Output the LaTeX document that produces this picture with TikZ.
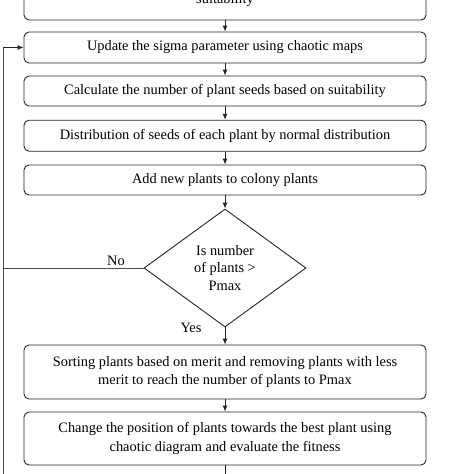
\documentclass[tikz,border=0pt]{standalone}
\usepackage{fontspec}
\setmainfont{Liberation Serif}
\usetikzlibrary{arrows.meta,shapes.geometric}
\begin{document}
\begin{tikzpicture}[x=1pt,y=-1pt,
  box/.style={draw=black!85, rounded corners=5pt, line width=0.9pt, minimum width=402pt,
    align=center, inner sep=0pt, font=\fontsize{14.4}{18.5}\selectfont},
  txt/.style={inner sep=0pt, align=center, font=\fontsize{14.4}{18}\selectfont},
  decision/.style={draw=black!85, line width=0.9pt, shape=diamond, aspect=1.373,
    minimum width=162pt, minimum height=118pt, inner sep=0pt, align=center,
    font=\fontsize{14.4}{17.7}\selectfont},
  flow/.style={draw=black!85, line width=0.9pt, -{Latex[length=6pt,width=5pt]}},
  loop/.style={draw=black!70, line width=0.6pt}]
\useasboundingbox (0,0) rectangle (474,474);
\clip (0,0) rectangle (474,474);
\fill[white] (0,0) rectangle (474,474);

\node[box, minimum height=60pt] (b0) at (225,-10) {};
\node[txt] (b0t) at (225,0) {suitability};
\node[box, minimum height=31pt] (b1) at (225,47.5) {Update the sigma parameter using chaotic maps};
\node[box, minimum height=30pt] (b2) at (225,91) {Calculate the number of plant seeds based on suitability};
\node[box, minimum height=31pt] (b3) at (225,135.7) {Distribution of seeds of each plant by normal distribution};
\node[box, minimum height=30pt] (b4) at (225,180) {Add new plants to colony plants};
\node[decision] (d) at (225,268) {Is number\\of plants >\\Pmax};
\node[box, minimum height=54pt] (b5) at (225,372) {Sorting plants based on merit and removing plants with less\\merit to reach the number of plants to Pmax};
\node[box, minimum height=53pt] (b6) at (225,438.5) {Change the position of plants towards the best plant using\\chaotic diagram and evaluate the fitness};

\node[txt] (no) at (116,261) {No};
\node[txt] (yes) at (191,328) {Yes};

\coordinate (out) at (225,490);
\coordinate (lb) at (3,490);
\coordinate (lt) at (3,47.5);

\draw[flow] (b0.south) -- (b1.north);
\draw[flow] (b1.south) -- (b2.north);
\draw[flow] (b2.south) -- (b3.north);
\draw[flow] (b3.south) -- (b4.north);
\draw[flow] (b4.south) -- (d.north);
\draw[flow] (d.south) -- (b5.north);
\draw[flow] (b5.south) -- (b6.north);
\draw[flow] (b6.south) -- (out);

\draw[loop] (d.west) -- (d.west -| lb);
\draw[loop] (lb) -- (lt);
\draw[flow] (lt) -- (b1.west);
\end{tikzpicture}
\end{document}
